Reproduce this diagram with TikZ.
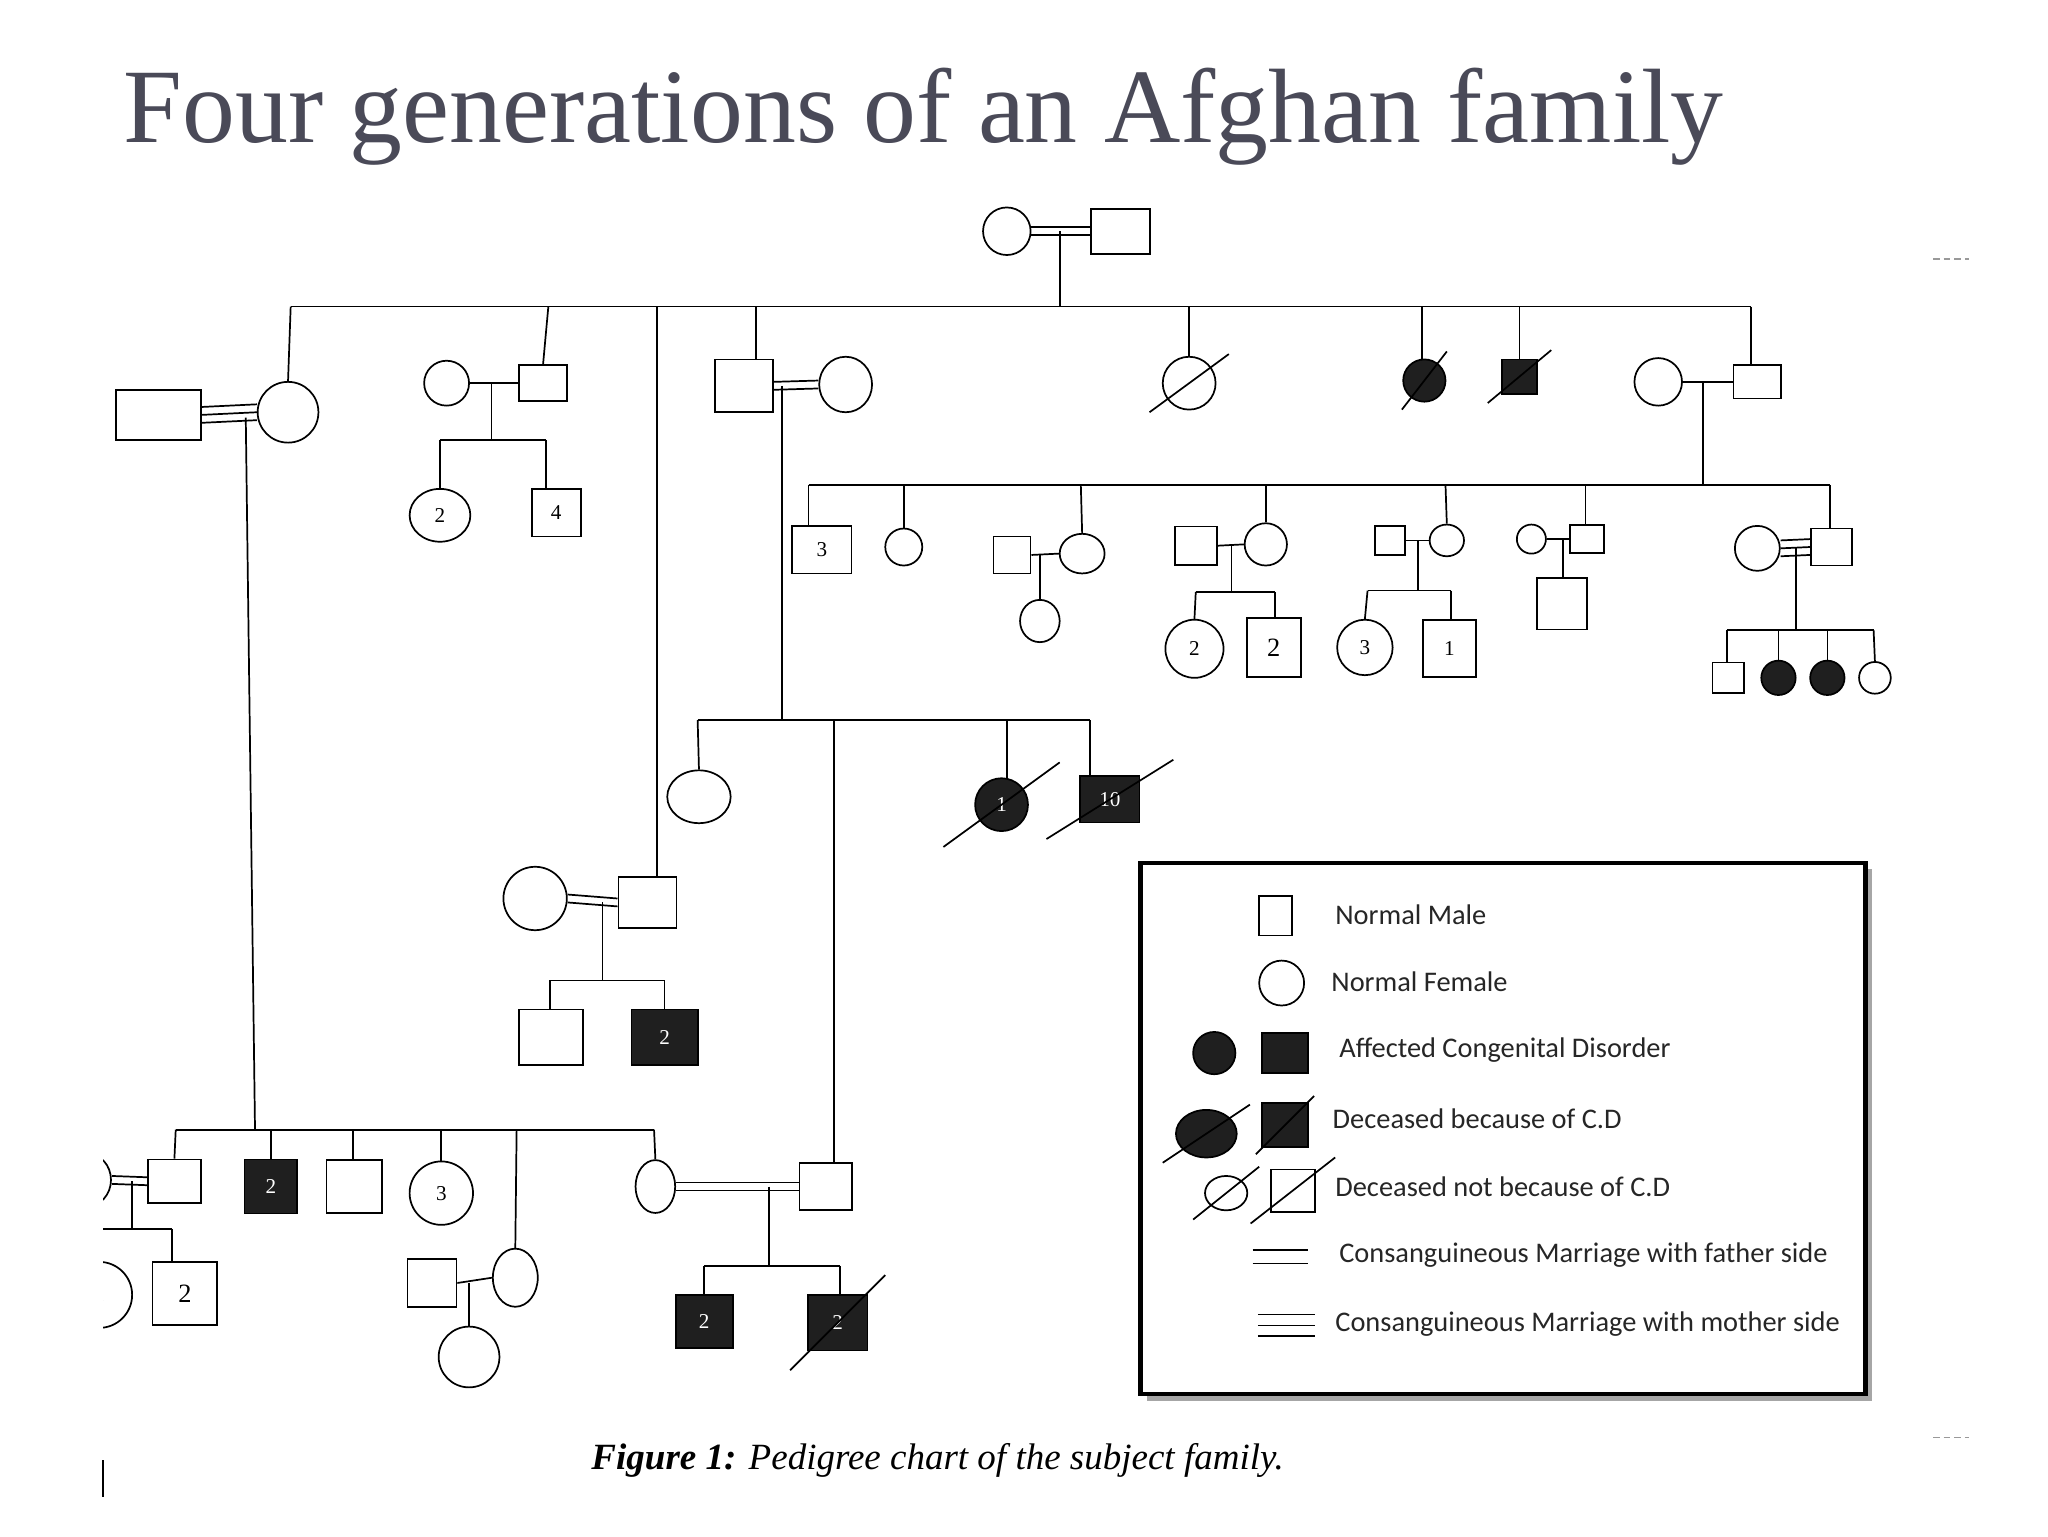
\documentclass[tikz,border=0pt]{standalone}
\usepackage{fontspec}
\setmainfont{Liberation Serif}
\newfontfamily\legfont{Carlito}
\usetikzlibrary{shapes.geometric}
\definecolor{titlegray}{HTML}{4A4A58}
\newcommand\slashit[3]{\draw ([shift={(-#2,#3)}]#1.center) -- ([shift={(#2,-#3)}]#1.center);}
\newcommand\dbl[2]{\draw ([yshift=-3]#1.east) -- ([yshift=-3]#2.west); \draw ([yshift=3]#1.east) -- ([yshift=3]#2.west);}
\newcommand\trp[2]{\draw ([yshift=-6]#1.east) -- ([yshift=-6]#2.west); \draw (#1.east) -- (#2.west); \draw ([yshift=6]#1.east) -- ([yshift=6]#2.west);}
\begin{document}
\begin{tikzpicture}[x=1pt,y=-1pt,line width=1.3pt,
  every node/.style={inner sep=0pt,font=\fontsize{16}{18}\selectfont},
  m/.style={draw,rectangle},
  f/.style={draw,ellipse},
  aff/.style={fill=black!88,text=white},
  lg/.style={anchor=west,font=\legfont\fontsize{21.5}{23}\selectfont,text=black!85}]
\useasboundingbox (0,0) rectangle (1550,1162.5);
\fill[white] (0,0) rectangle (1550,1162.5);
\node[anchor=base west,text=titlegray,font=\fontsize{80}{86}\selectfont] (title) at (93,108) {Four generations of an Afghan family};
\begin{scope}
\clip (78,140) rectangle (1550,1130);
% Gen I
\node[f,minimum width=36,minimum height=36] (g1f) at (762,175) {};
\node[m,minimum width=45,minimum height=34] (g1m) at (848,175) {};
\dbl{g1f}{g1m}
\coordinate (g1c) at (802,175);
\draw (g1c) -- (802,232);
\draw (220,232) -- (1325,232);
% Gen II
\node[m,minimum width=64,minimum height=38] (a1m) at (120,314) {};
\node[f,minimum width=46,minimum height=46] (a1f) at (218,312) {};
\trp{a1m}{a1f}
\draw (220,232) -- (a1f.north);
\draw (186,316) -- (193,855);
\node[f,minimum width=34,minimum height=34] (b1f) at (338,290) {};
\node[m,minimum width=36,minimum height=27] (b1m) at (411,290) {};
\draw (b1f.east) -- (b1m.west);
\draw (415,232) -- (b1m.north);
\draw (372,290) -- (372,333); \draw (333,333) -- (413,333);
\node[f,minimum width=46,minimum height=40] (b2f) at (333,390) {2};
\node[m,minimum width=37,minimum height=36] (b2m) at (421,388) {4};
\draw (333,333) -- (b2f.north); \draw (413,333) -- (413,370);
\draw (497,232) -- (497,664);
\node[m,minimum width=44,minimum height=40] (d1m) at (563,292) {};
\node[f,minimum width=40,minimum height=42] (d1f) at (640,291) {};
\dbl{d1m}{d1f}
\draw (572,232) -- (572,272);
\draw (592,292) -- (592,545); \draw (528,545) -- (825,545);
\node[f,minimum width=40,minimum height=40] (e1) at (900,290) {};
\draw (900,232) -- (e1.north); \slashit{e1}{30}{22}
\node[f,aff,minimum width=32,minimum height=32] (h1) at (1078,288) {};
\draw (1076,232) -- (1076,272); \slashit{h1}{17}{22}
\node[m,aff,minimum width=26,minimum height=26] (h2) at (1150,285) {};
\draw (1150,232) -- (h2.north); \slashit{h2}{24}{20}
\node[f,minimum width=36,minimum height=36] (k1f) at (1255,289) {};
\node[m,minimum width=36,minimum height=25] (k1m) at (1330,289) {};
\draw (k1f.east) -- (k1m.west);
\draw (1325,232) -- (1325,276.5);
\draw (1289,289) -- (1289,367); \draw (612,367) -- (1385,367);
% Gen III right
\node[m,minimum width=45,minimum height=36] (r1) at (622,416) {3};
\draw (612,367) -- (612,398);
\node[f,minimum width=28,minimum height=28] (r2) at (684,414) {};
\draw (684,367) -- (r2.north);
\node[m,minimum width=28,minimum height=28] (r3m) at (766,420) {};
\node[f,minimum width=34,minimum height=30] (r3f) at (819,419) {};
\draw (r3m.east) -- (r3f.west); \draw (818,367) -- (r3f.north);
\node[f,minimum width=30,minimum height=32] (r3c) at (787,470) {};
\draw (787,420) -- (r3c.north);
\node[m,minimum width=32,minimum height=29] (r4m) at (905,413) {};
\node[f,minimum width=32,minimum height=32] (r4f) at (958,412) {};
\draw (r4m.east) -- (r4f.west); \draw (958,367) -- (r4f.north);
\draw (932,413) -- (932,448); \draw (905,448) -- (965,448);
\node[f,minimum width=44,minimum height=44] (r4a) at (904,491) {2};
\node[m,minimum width=41,minimum height=45] (r4b) at (964,490) {\fontsize{20}{20}\selectfont 2};
\draw (905,448) -- (r4a.north); \draw (965,448) -- (965,467.5);
\node[m,minimum width=23,minimum height=22] (r5m) at (1052,409) {};
\node[f,minimum width=26,minimum height=24] (r5f) at (1095,409) {};
\draw (r5m.east) -- (r5f.west); \draw (1094,367) -- (r5f.north);
\draw (1073,409) -- (1073,447); \draw (1035,447) -- (1098,447);
\node[f,minimum width=42,minimum height=42] (r5a) at (1033,490) {3};
\node[m,minimum width=40,minimum height=43] (r5b) at (1097,491) {1};
\draw (1035,447) -- (r5a.north); \draw (1098,447) -- (1098,469.5);
\node[f,minimum width=22,minimum height=22] (r6f) at (1159,408) {};
\node[m,minimum width=26,minimum height=21] (r6m) at (1201,408) {};
\draw (r6f.east) -- (r6m.west); \draw (1200,367) -- (1200,397.5);
\node[m,minimum width=38,minimum height=39] (r6c) at (1182,457) {};
\draw (1183,408) -- (1183,437.5);
\node[f,minimum width=34,minimum height=34] (r7f) at (1330,415) {};
\node[m,minimum width=31,minimum height=28] (r7m) at (1386,414) {};
\trp{r7f}{r7m}
\draw (1385,367) -- (1385,400);
\draw (1359,415) -- (1359,477); \draw (1307,477) -- (1418,477);
\node[m,minimum width=24,minimum height=23] (r7a) at (1308,513) {};
\node[f,aff,minimum width=26,minimum height=26] (r7b) at (1346,513) {};
\node[f,aff,minimum width=26,minimum height=26] (r7c) at (1383,513) {};
\node[f,minimum width=24,minimum height=24] (r7d) at (1419,513) {};
\draw (1307,477) -- (1307,501.5); \draw (1346,477) -- (r7b.north);
\draw (1383,477) -- (r7c.north); \draw (1418,477) -- (r7d.north);
% Gen III mid
\node[f,minimum width=48,minimum height=40] (t1) at (529,603) {};
\draw (528,545) -- (t1.north);
\draw (631,545) -- (631,880);
\node[f,aff,minimum width=40,minimum height=40] (t2) at (758,609) {1};
\draw (762,545) -- (762,589); \slashit{t2}{44}{32}
\node[m,aff,minimum width=45,minimum height=35] (t3) at (840,605) {10};
\draw (825,545) -- (825,587.5); \slashit{t3}{48}{30}
\node[f,minimum width=48,minimum height=48] (c3f) at (405,680) {};
\node[m,minimum width=44,minimum height=39] (c3m) at (490,683) {};
\dbl{c3f}{c3m}
\draw (456,683) -- (456,742); \draw (416,742) -- (503,742);
\node[m,minimum width=48,minimum height=42] (c4a) at (417,785) {};
\node[m,aff,minimum width=50,minimum height=42] (c4b) at (503,785) {2};
\draw (416,742) -- (416,764); \draw (503,742) -- (503,764);
% Gen IV
\draw (133,855) -- (495,855);
\node[f,minimum width=36,minimum height=40] (v1f) at (66,893) {};
\node[m,minimum width=40,minimum height=33] (v1m) at (132,894) {};
\dbl{v1f}{v1m}
\draw (133,855) -- (v1m.north);
\draw (100,894) -- (100,930); \draw (70,930) -- (130,930);
\node[f,minimum width=50,minimum height=50] (v1a) at (75,980) {1};
\node[m,minimum width=49,minimum height=48] (v1b) at (140,979) {\fontsize{20}{20}\selectfont 2};
\draw (130,930) -- (130,955);
\node[m,aff,minimum width=40,minimum height=41] (v2) at (205,898) {2};
\draw (205,855) -- (v2.north);
\node[m,minimum width=42,minimum height=40] (v3) at (268,898) {};
\draw (267,855) -- (267,878);
\node[f,minimum width=48,minimum height=48] (v4) at (334,903) {3};
\draw (334,855) -- (v4.north);
\node[f,minimum width=34,minimum height=44] (v5f) at (390,967) {};
\node[m,minimum width=37,minimum height=36] (v5m) at (327,971) {};
\draw (v5m.east) -- (v5f.west); \draw (391,855) -- (v5f.north);
\node[f,minimum width=46,minimum height=46] (v5c) at (355,1027) {};
\draw (355,971) -- (v5c.north);
\node[f,minimum width=30,minimum height=40] (v6f) at (496,898) {};
\node[m,minimum width=40,minimum height=36] (u1m) at (625,898) {};
\dbl{v6f}{u1m}
\draw (495,855) -- (v6f.north);
\draw (582,898) -- (582,958); \draw (533,958) -- (636,958);
\node[m,aff,minimum width=43,minimum height=40] (v7a) at (533,1000) {2};
\node[m,aff,minimum width=45,minimum height=42] (v7b) at (634,1001) {2};
\draw (533,958) -- (v7a.north); \draw (636,958) -- (636,980);
\slashit{v7b}{36}{36}
\end{scope}
\draw[line width=1pt] (78,1105) -- (78,1133);
% Legend
\fill[black!35] (868,658) rectangle (1417,1060);
\draw[line width=3.5pt,fill=white] (863,653) rectangle (1412,1055);
\node[m,minimum width=25,minimum height=30] (l1) at (965.5,693) {};
\node[lg] (l1t) at (1010,692) {Normal Male};
\node[f,minimum width=34,minimum height=34] (l2) at (970,744) {};
\node[lg] (l2t) at (1007,743) {Normal Female};
\node[f,aff,minimum width=32,minimum height=32] (l3a) at (919,797) {};
\node[m,aff,minimum width=35,minimum height=30] (l3b) at (972.5,797) {};
\node[lg] (l3t) at (1013,795) {Affected Congenital Disorder};
\node[f,aff,minimum width=46,minimum height=36] (l4a) at (913,858) {};
\node[m,aff,minimum width=35,minimum height=33] (l4b) at (972.5,851.5) {};
\slashit{l4a}{33}{22} \slashit{l4b}{22}{22}
\node[lg] (l4t) at (1008,847) {Deceased because of C.D};
\node[f,minimum width=32,minimum height=26] (l5a) at (928,903) {};
\node[m,minimum width=33,minimum height=32] (l5b) at (978.5,901) {};
\slashit{l5a}{25}{20} \slashit{l5b}{32}{25}
\node[lg] (l5t) at (1010,898) {Deceased not because of C.D};
\coordinate (l6a) at (948,951); \coordinate (l6b) at (990,951);
\draw[line width=1pt] ([yshift=-5]l6a) -- ([yshift=-5]l6b); \draw[line width=1pt] ([yshift=5]l6a) -- ([yshift=5]l6b);
\node[lg] (l6t) at (1013,950) {Consanguineous Marriage with father side};
\coordinate (l7a) at (952,1003); \coordinate (l7b) at (995,1003);
\draw[line width=1pt] ([yshift=-8]l7a) -- ([yshift=-8]l7b); \draw[line width=1pt] (l7a) -- (l7b); \draw[line width=1pt] ([yshift=8]l7a) -- ([yshift=8]l7b);
\node[lg] (l7t) at (1010,1002) {Consanguineous Marriage with mother side};
\node[anchor=base west,font=\fontsize{28}{30}\selectfont\itshape] (cap) at (447,1112) {\textbf{Figure 1:} Pedigree chart of the subject family.};
\draw[black!40,line width=0.8pt,dash pattern=on 5pt off 3pt] (1463,196) -- (1490,196);
\draw[black!40,line width=0.8pt,dash pattern=on 5pt off 3pt] (1463,1088) -- (1490,1088);
\end{tikzpicture}
\end{document}
